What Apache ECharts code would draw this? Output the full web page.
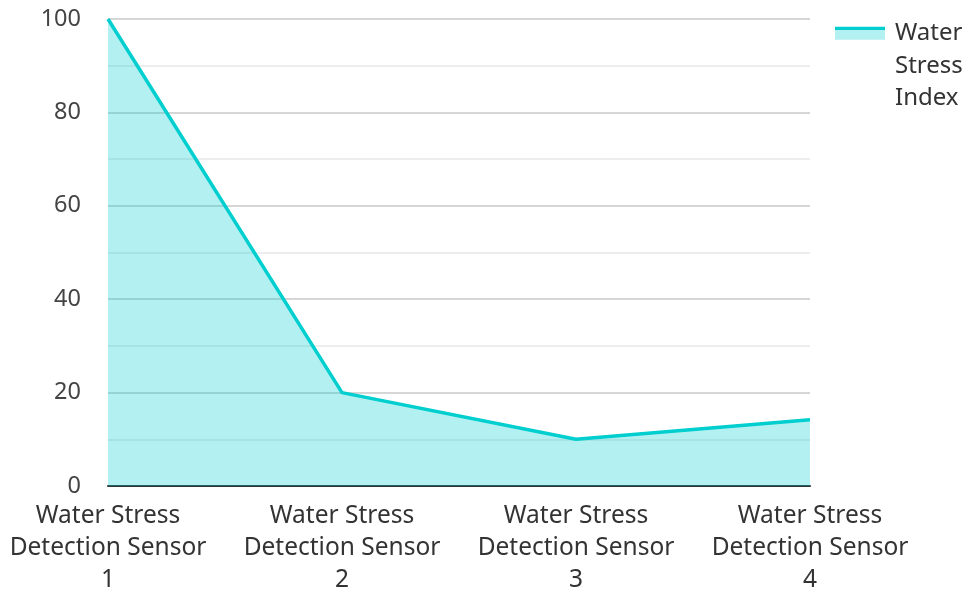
<!DOCTYPE html>
<html>
<head>
<meta charset="utf-8">
<script src="https://cdn.jsdelivr.net/npm/echarts@6/dist/echarts.min.js"></script>
<style>html,body{margin:0;padding:0;background:#fff}#c{width:967px;height:589px}</style>
</head>
<body>
<div id="c"></div>
<script>
const categories = ["Water Stress Detection Sensor 1", "Water Stress Detection Sensor 2", "Water Stress Detection Sensor 3", "Water Stress Detection Sensor 4"];
const seriesName = "Water Stress Index";
const values = [100, 20, 10, 14.2];
const yTicks = { min: 0, max: 100, interval: 20 };

const chart = echarts.init(document.getElementById('c'));
const font = "'Noto Sans', 'Open Sans', sans-serif";
const lineColor = '#00CECF';
const areaColor = '#b3f0f1';
chart.setOption({
  animation: false,
  textStyle: { fontFamily: font },
  grid: { left: 108, right: 157, top: 19, bottom: 103, containLabel: false, outerBoundsMode: 'none' },
  legend: {
    left: 835, top: -48, orient: 'vertical', padding: 0,
    icon: 'rect',
    itemWidth: 50, itemHeight: 13, itemGap: 10,
    itemStyle: {
      color: { type: 'linear', x: 0, y: 0, x2: 0, y2: 1, colorStops: [
        { offset: 0, color: lineColor }, { offset: 0.28, color: lineColor },
        { offset: 0.28, color: areaColor }, { offset: 1, color: areaColor } ] },
      borderWidth: 0
    },
    formatter: name => '\n\n' + name.split(' ').join('\n'),
    textStyle: { fontFamily: font, fontSize: 24, color: '#333', lineHeight: 32.5, padding: [0, 0, 0, 5] },
    data: [seriesName]
  },
  xAxis: {
    type: 'category', data: categories, boundaryGap: false,
    axisLine: { lineStyle: { color: '#333', width: 2 } },
    axisTick: { show: false },
    axisLabel: {
      fontFamily: font, fontSize: 24.5, color: '#333', lineHeight: 32, margin: 14, interval: 0,
      formatter: v => { const m = v.match(/^(Water Stress) (Detection Sensor) (.*)$/); return m ? m[1] + '\n' + m[2] + '\n' + m[3] : v; }
    }
  },
  yAxis: {
    type: 'value', min: yTicks.min, max: yTicks.max, interval: yTicks.interval,
    axisLine: { show: false }, axisTick: { show: false },
    axisLabel: { fontFamily: font, fontSize: 23.5, color: '#444', margin: 27 },
    splitLine: { lineStyle: { color: '#c8c8c8', width: 1.5 } },
    minorTick: { show: false, splitNumber: 2 },
    minorSplitLine: { show: true, lineStyle: { color: '#e8e8e8', width: 1.5 } }
  },
  series: [{
    name: seriesName, type: 'line', data: values, symbol: 'none',
    lineStyle: { color: lineColor, width: 3.5 },
    itemStyle: { color: lineColor },
    areaStyle: { color: lineColor, opacity: 0.3 }
  }]
});
</script>
</body>
</html>
